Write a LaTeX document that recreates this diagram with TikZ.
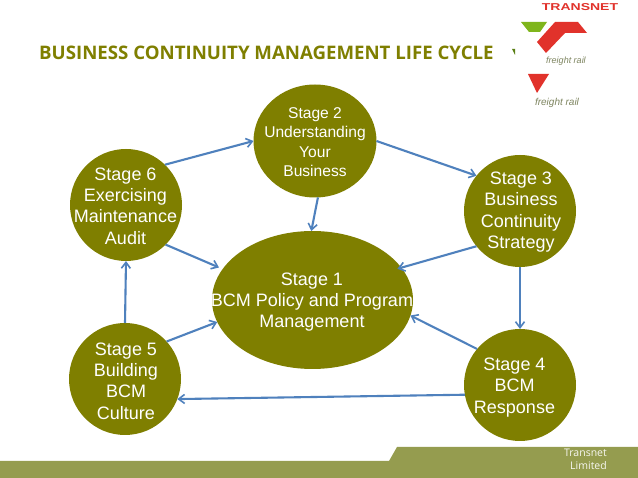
\documentclass[tikz,border=0pt]{standalone}
\usepackage{fontspec}
\setmainfont{Liberation Sans}
\newfontfamily\titlefont{Open Sans}
\usetikzlibrary{arrows.meta,shapes.geometric}
\definecolor{olivefill}{HTML}{7F7F00}
\definecolor{bandcol}{HTML}{959C4F}
\definecolor{arrowcol}{HTML}{4F81BD}
\definecolor{logored}{HTML}{E1322B}
\definecolor{logogreen}{HTML}{7FB51C}
\definecolor{railgrey}{HTML}{7E8560}
\tikzset{
  x=1pt,y=-1pt,
  disc/.style={ellipse,fill=olivefill,inner sep=0pt,outer sep=0pt},
  stagetext/.style={text=white,align=center,inner sep=0pt,font=\fontsize{18}{21.4}\selectfont},
  link/.style={draw=arrowcol,line width=2.1pt,-{Straight Barb[length=6pt,width=9pt,line width=1.6pt]}},
  rail/.style={text=railgrey,font=\fontsize{9}{10}\selectfont\itshape,inner sep=0pt},
}
\begin{document}
\begin{tikzpicture}
\useasboundingbox (0,0) rectangle (638,478);
\fill[white] (0,0) rectangle (638,478);
% footer band
\fill[bandcol] (0,461) -- (389,461) -- (397,447) -- (638,447) -- (638,478) -- (0,478) -- cycle;
\node[anchor=east,text=white!92!bandcol,align=right,inner sep=0pt,font=\titlefont\fontsize{10.5}{13}\selectfont] (ltd) at (607,459) {Transnet\\Limited};
% title
\node[anchor=west,inner sep=0pt,text=olivefill,font=\titlefont\bfseries\fontsize{18.65}{20}\selectfont] (title) at (39,53) {BUSINESS CONTINUITY MANAGEMENT LIFE CYCLE};
% logo
\node[inner sep=0pt,text=logored,font=\bfseries\fontsize{10}{12}\selectfont] (brand) at (580,7) {\scalebox{1.4}[1]{TRANSNET}};
\fill[logogreen] (521,22) -- (547,22) -- (540,32) -- (529,32) -- cycle;
\fill[logored] (555,22) -- (578,22) -- (587,33) -- (565,33) -- (546,53) -- (537,42) -- cycle;
\fill[logogreen!70!black] (512,49) -- (515,49) -- (515,55) -- cycle;
\fill[logored] (528,74) -- (549,74) -- (537,93) -- cycle;
\node[rail] (rail1) at (566,61) {freight rail};
\node[rail,font=\fontsize{10}{12}\selectfont\itshape] (rail2) at (557,103) {freight rail};
% stages
\node[disc,minimum width=201pt,minimum height=138pt] (s1) at (312.5,300) {};
\node[stagetext] (t1) at (312,302) {Stage 1\\BCM Policy and Program\\Management};
\node[disc,minimum width=123pt,minimum height=113pt] (s2) at (315,141) {};
\node[stagetext,font=\fontsize{15.6}{19.5}\selectfont] (t2) at (315,142) {Stage 2\\Understanding\\Your\\Business};
\node[disc,minimum width=112pt,minimum height=112pt] (s3) at (520,211) {};
\node[stagetext] (t3) at (521,212) {Stage 3\\Business\\Continuity\\Strategy};
\node[disc,minimum width=112pt,minimum height=112pt] (s4) at (520,385) {};
\node[stagetext] (t4) at (514.5,387.5) {Stage 4\\BCM\\Response};
\node[disc,minimum width=112pt,minimum height=112pt] (s5) at (125,379) {};
\node[stagetext] (t5) at (126,381) {Stage 5\\Building\\BCM\\Culture};
\node[disc,minimum width=112pt,minimum height=112pt] (s6) at (126,205) {};
\node[stagetext] (t6) at (125.5,206) {Stage 6\\Exercising\\Maintenance\\Audit};
% connectors
\draw[link] (s6.46) -- (s2.180);
\draw[link] (s2.0) -- (s3.141);
\draw[link] (s2.-87) -- (s1.91);
\draw[link,shorten >=-4pt] (s3.219) -- (s1.20);
\draw[link] (s3.-90) -- (s4.90);
\draw[link] (s4.140) -- (s1.-9);
\draw[link] (s4.190) -- (s5.-21);
\draw[link] (s5.90) -- (s6.-90);
\draw[link] (s5.42) -- (s1.193);
\draw[link,shorten >=4pt] (s6.-45) -- (s1.161);
\end{tikzpicture}
\end{document}
